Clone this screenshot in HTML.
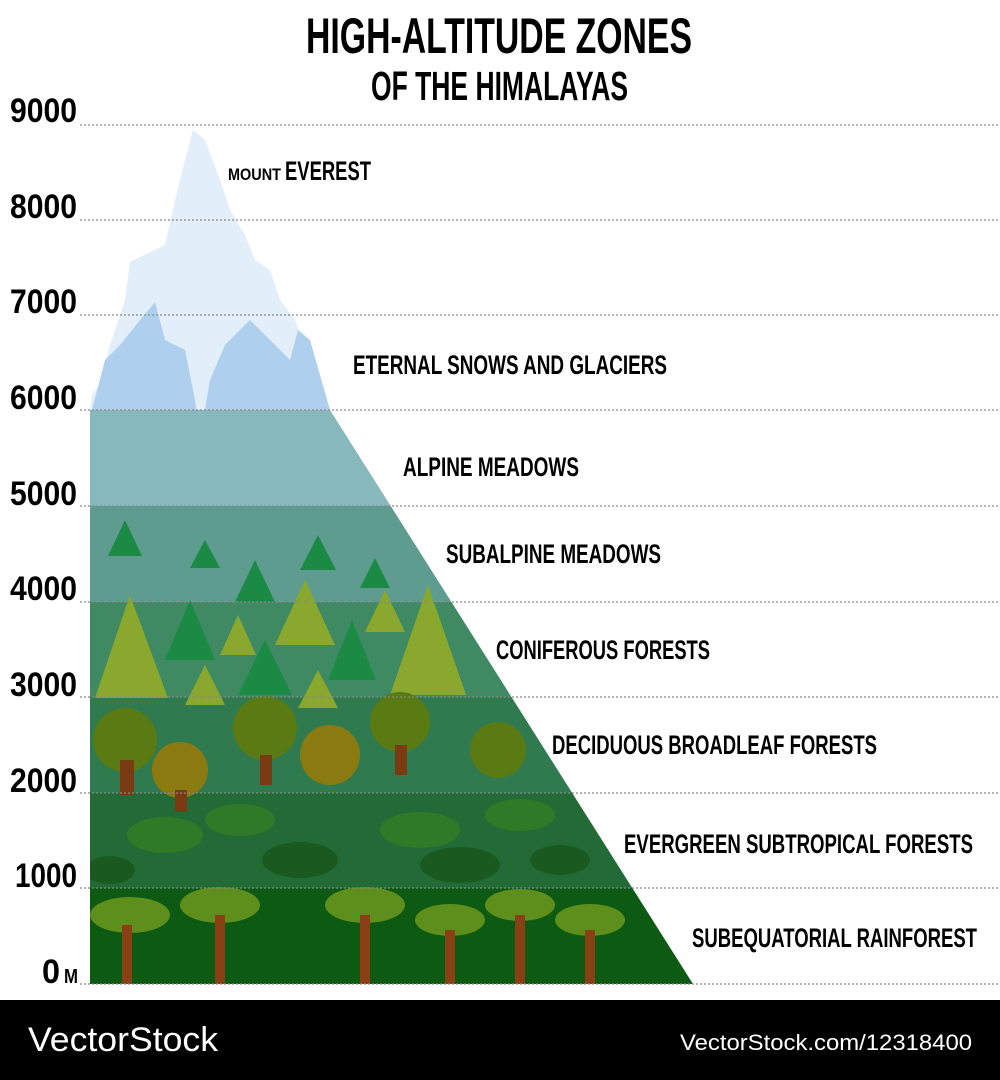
<!DOCTYPE html>
<html><head><meta charset="utf-8"><style>html,body{margin:0;padding:0;background:#fff}svg{display:block}</style></head>
<body>
<svg width="1000" height="1080" viewBox="0 0 1000 1080" xmlns="http://www.w3.org/2000/svg" font-family="Liberation Sans, sans-serif" font-weight="bold">
<rect width="1000" height="1080" fill="#fff"/>
<defs><clipPath id="mt"><polygon points="90,410 330,410 693,984 90,984"/></clipPath></defs>
<!-- snow peak -->
<path d="M90,410 L92,395 L100,385 L110,345 L125,300 L130,262 L165,245 L175,200 L185,160 L193,130 L205,140 L220,180 L230,210 L245,235 L255,260 L270,270 L280,300 L295,320 L330,410 Z" fill="#e2eefa"/>
<path d="M92,410 L105,360 L120,345 L140,320 L155,302 L165,340 L185,350 L195,400 L200,440 L210,380 L225,345 L250,320 L275,345 L290,360 L298,330 L310,340 L330,410 Z" fill="#aed0ee"/>
<g clip-path="url(#mt)">
<rect x="90" y="410" width="610" height="96" fill="#86b8bc"/>
<rect x="90" y="506" width="610" height="96" fill="#5e9c90"/>
<rect x="90" y="602" width="610" height="95" fill="#3f8a62"/>
<rect x="90" y="697" width="610" height="96" fill="#2f7a4e"/>
<rect x="90" y="793" width="610" height="95" fill="#236b36"/>
<rect x="90" y="888" width="610" height="96" fill="#0d5a12"/>
<!-- conifer trees -->
<g fill="#1a8a45">
<polygon points="125,520 108,556 142,556"/><polygon points="205,540 190,568 220,568"/><polygon points="318,535 300,570 336,570"/><polygon points="255,560 235,602 275,602"/><polygon points="375,558 360,588 390,588"/>
<polygon points="190,600 165,660 215,660"/><polygon points="265,640 238,695 292,695"/><polygon points="352,620 328,680 376,680"/>
</g>
<g fill="#8aa82e">
<polygon points="130,595 95,698 168,698"/><polygon points="305,580 275,645 335,645"/><polygon points="428,585 390,695 466,695"/><polygon points="238,615 220,655 256,655"/><polygon points="205,665 185,705 225,705"/><polygon points="318,670 298,708 338,708"/><polygon points="385,590 365,632 405,632"/>
</g>
<!-- deciduous -->
<g fill="#5a7a14"><circle cx="125" cy="740" r="32"/><circle cx="265" cy="728" r="32"/><circle cx="400" cy="722" r="30"/><circle cx="498" cy="750" r="28"/></g>
<g fill="#8b7a10"><circle cx="330" cy="755" r="30"/><circle cx="180" cy="770" r="28"/></g>
<g fill="#7a3a12"><rect x="120" y="760" width="14" height="35"/><rect x="260" y="755" width="12" height="30"/><rect x="395" y="745" width="12" height="30"/><rect x="175" y="790" width="12" height="22"/></g>
<!-- palms / evergreen -->
<g fill="#2e7a26"><ellipse cx="165" cy="835" rx="38" ry="18"/><ellipse cx="240" cy="820" rx="35" ry="16"/><ellipse cx="420" cy="830" rx="40" ry="18"/><ellipse cx="520" cy="815" rx="35" ry="16"/></g>
<g fill="#1a5a20"><ellipse cx="300" cy="860" rx="38" ry="18"/><ellipse cx="460" cy="865" rx="40" ry="18"/><ellipse cx="560" cy="860" rx="30" ry="15"/><ellipse cx="110" cy="870" rx="25" ry="14"/></g>
<!-- rainforest -->
<g fill="#5e8e1c"><ellipse cx="130" cy="915" rx="40" ry="18"/><ellipse cx="220" cy="905" rx="40" ry="18"/><ellipse cx="365" cy="905" rx="40" ry="18"/><ellipse cx="450" cy="920" rx="35" ry="16"/><ellipse cx="520" cy="905" rx="35" ry="16"/><ellipse cx="590" cy="920" rx="35" ry="16"/></g>
<g fill="#8a3f14"><rect x="122" y="925" width="10" height="60"/><rect x="215" y="915" width="10" height="70"/><rect x="360" y="915" width="10" height="70"/><rect x="445" y="930" width="10" height="55"/><rect x="515" y="915" width="10" height="70"/><rect x="585" y="930" width="10" height="55"/></g>
</g>
<!-- grid lines -->
<g stroke="#888" stroke-width="1.3" stroke-dasharray="2,2">
<line x1="80" y1="125" x2="1000" y2="125"/><line x1="80" y1="220" x2="1000" y2="220"/><line x1="80" y1="315" x2="1000" y2="315"/><line x1="80" y1="410" x2="1000" y2="410"/><line x1="80" y1="506" x2="1000" y2="506"/><line x1="80" y1="602" x2="1000" y2="602"/><line x1="80" y1="697" x2="1000" y2="697"/><line x1="80" y1="793" x2="1000" y2="793"/><line x1="80" y1="888" x2="1000" y2="888"/><line x1="80" y1="984" x2="1000" y2="984"/>
</g>
<!-- titles -->
<text x="306" y="53" font-size="50" textLength="386" lengthAdjust="spacingAndGlyphs">HIGH-ALTITUDE ZONES</text>
<text x="371" y="100" font-size="41" textLength="257" lengthAdjust="spacingAndGlyphs">OF THE HIMALAYAS</text>
<!-- axis -->
<g font-size="34">
<text x="10" y="122" textLength="67" lengthAdjust="spacingAndGlyphs">9000</text>
<text x="10" y="218" textLength="67" lengthAdjust="spacingAndGlyphs">8000</text>
<text x="10" y="313" textLength="67" lengthAdjust="spacingAndGlyphs">7000</text>
<text x="10" y="409" textLength="67" lengthAdjust="spacingAndGlyphs">6000</text>
<text x="10" y="505" textLength="67" lengthAdjust="spacingAndGlyphs">5000</text>
<text x="10" y="600" textLength="67" lengthAdjust="spacingAndGlyphs">4000</text>
<text x="10" y="696" textLength="67" lengthAdjust="spacingAndGlyphs">3000</text>
<text x="10" y="792" textLength="67" lengthAdjust="spacingAndGlyphs">2000</text>
<text x="15" y="887" textLength="62" lengthAdjust="spacingAndGlyphs">1000</text>
<text x="42" y="983" textLength="18" lengthAdjust="spacingAndGlyphs">0</text>
<text x="64" y="983" font-size="20" textLength="14" lengthAdjust="spacingAndGlyphs">M</text>
</g>
<!-- zone labels -->
<g font-size="27">
<text x="228" y="180" font-size="17" textLength="53" lengthAdjust="spacingAndGlyphs">MOUNT</text>
<text x="285" y="180" textLength="86" lengthAdjust="spacingAndGlyphs">EVEREST</text>
<text x="353" y="374" textLength="314" lengthAdjust="spacingAndGlyphs">ETERNAL SNOWS AND GLACIERS</text>
<text x="403" y="476" textLength="176" lengthAdjust="spacingAndGlyphs">ALPINE MEADOWS</text>
<text x="446" y="563" textLength="215" lengthAdjust="spacingAndGlyphs">SUBALPINE MEADOWS</text>
<text x="496" y="659" textLength="214" lengthAdjust="spacingAndGlyphs">CONIFEROUS FORESTS</text>
<text x="552" y="754" textLength="325" lengthAdjust="spacingAndGlyphs">DECIDUOUS BROADLEAF FORESTS</text>
<text x="624" y="853" textLength="349" lengthAdjust="spacingAndGlyphs">EVERGREEN SUBTROPICAL FORESTS</text>
<text x="692" y="947" textLength="285" lengthAdjust="spacingAndGlyphs">SUBEQUATORIAL RAINFOREST</text>
</g>
<!-- footer -->
<rect x="0" y="1000" width="1000" height="80" fill="#000"/>
<text x="28" y="1051" font-size="34" font-weight="normal" fill="#fff" textLength="190" lengthAdjust="spacingAndGlyphs">VectorStock</text>
<text x="680" y="1050" font-size="22" font-weight="normal" fill="#fff" textLength="292" lengthAdjust="spacingAndGlyphs">VectorStock.com/12318400</text>
</svg>
</body></html>
